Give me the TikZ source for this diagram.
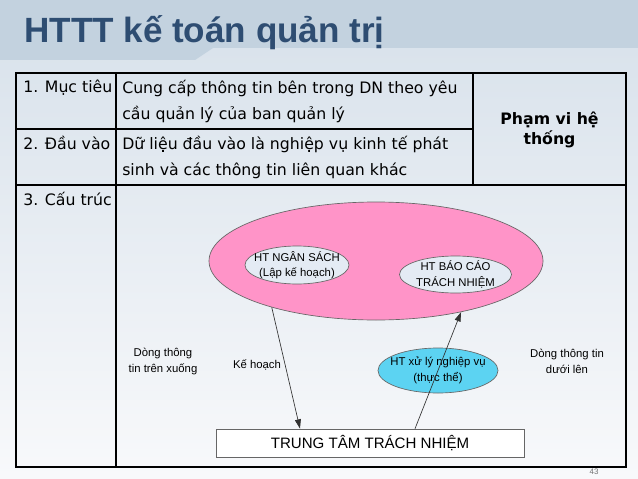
\documentclass[tikz,border=0pt]{standalone}
\usepackage{fontspec}
\setmainfont{DejaVu Sans}
\newfontfamily\arialfont{Liberation Sans}
\usetikzlibrary{shapes.geometric,arrows.meta,positioning}
\definecolor{bandblue}{HTML}{C3D2DF}
\definecolor{bgtop}{HTML}{DAE3EC}
\definecolor{bgbot}{HTML}{F8F9FB}
\definecolor{titleblue}{HTML}{2E4D72}
\definecolor{pinkfill}{HTML}{FF94C8}
\definecolor{paleblue}{HTML}{E4EBF4}
\definecolor{cyanfill}{HTML}{5CD3F2}

\begin{document}
\begin{tikzpicture}[x=0.75pt, y=-0.75pt,
    cell/.style={anchor=base west, inner sep=0pt, align=left, font=\fontsize{11.8}{19.5}\selectfont},
    note/.style={font=\arialfont\fontsize{8.5}{12}\selectfont, align=center, inner sep=0pt},
    bubble/.style={ellipse, draw=black!60, line width=0.5pt, inner xsep=-6pt, inner ysep=-1pt, font=\arialfont\fontsize{8.5}{11.5}\selectfont, align=center},
    flow/.style={draw=black!80, line width=0.5pt, -{Triangle[length=7pt,width=4.5pt]}}
  ]
  \useasboundingbox (0,0) rectangle (638,478);
  % slide background
  \shade[top color=bgtop, bottom color=bgbot] (0,48) rectangle (638,478);
  \fill[bandblue] (0,0) -- (638,0) -- (638,48) -- (213,48) -- (195,60) -- (0,60) -- cycle;
  \node[anchor=base west, inner sep=0pt, text=titleblue, font=\arialfont\bfseries\fontsize{26.3}{30}\selectfont] (title) at (24,43) {HTTT kế toán quản trị};

  % table (base = last line)
  \draw[line width=1.6pt] (16,73) rectangle (626,467);
  \draw[line width=1.1pt] (116,73) -- (116,467);
  \draw[line width=1.1pt] (16,129) -- (473,129);
  \draw[line width=1.1pt] (16,185) -- (626,185);
  \draw[line width=1.1pt] (473,73) -- (473,185);

  \node[cell] (goal) at (23,93) {1. Mục tiêu};
  \node[cell] (goaltext) at (122,119) {Cung cấp thông tin bên trong DN theo yêu\\cầu quản lý của ban quản lý};
  \node[cell] (input) at (23,149) {2. Đầu vào};
  \node[cell] (inputtext) at (122,175) {Dữ liệu đầu vào là nghiệp vụ kinh tế phát\\sinh và các thông tin liên quan khác};
  \node[cell] (struct) at (23,205) {3. Cấu trúc};
  \node[inner sep=0pt, align=center, font=\bfseries\fontsize{11.8}{15}\selectfont] (range) at (549.5,130) {Phạm vi hệ\\thống};

  % structure diagram
  \node[bubble, fill=pinkfill, minimum width=250.5pt, minimum height=88.5pt] (plan) at (376,261) {};
  \node[bubble, fill=paleblue, minimum width=78pt, minimum height=28.5pt] (budget) at (297,265) {HT NGÂN SÁCH\\(Lập kế hoạch)};
  \node[bubble, fill=paleblue, minimum width=84pt, minimum height=27.75pt] (report) at (455.5,274.5) {HT BÁO CÁO\\TRÁCH NHIỆM};
  \node[bubble, fill=cyanfill, minimum width=90pt, minimum height=33.75pt] (process) at (438,370.5) {HT xử lý nghiệp vụ\\(thực thể)};
  \node[draw=black!60, fill=white, line width=0.5pt, minimum width=231pt, minimum height=21pt, font=\arialfont\fontsize{11.3}{13}\selectfont] (centre) at (370,443) {TRUNG TÂM TRÁCH NHIỆM};

  \node[note] (topdown) at (163,361) {Dòng thông\\tin trên xuống};
  \node[note] (plannote) at (257,365) {Kế hoạch};
  \node[note] (bottomup) at (567,361) {Dòng thông tin\\dưới lên};

  \draw[flow] (plan.204) -- ([xshift=-52.5pt]centre.north);
  \draw[flow] ([xshift=33.75pt]centre.north) -- (plan.329);

  \node[font=\arialfont\fontsize{6}{7}\selectfont, text=black!55] (pagenum) at (594,472) {43};
\end{tikzpicture}
\end{document}
